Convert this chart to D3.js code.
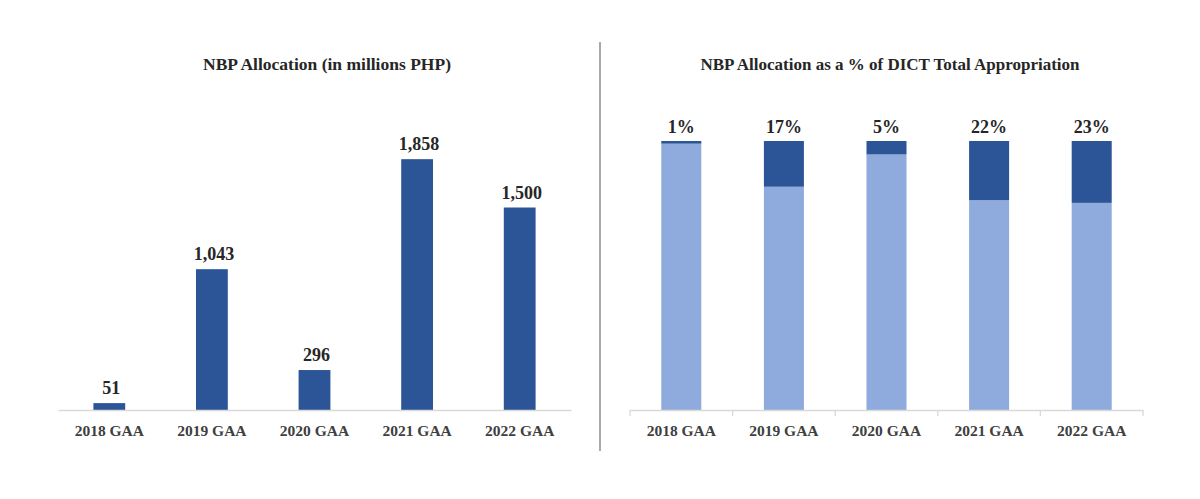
<!DOCTYPE html>
<html><head><meta charset="utf-8">
<script src="https://cdn.jsdelivr.net/npm/d3@7"></script>
<style>
body{margin:0;background:#fff;}
text{font-family:"Liberation Serif","DejaVu Serif",serif;}
</style></head>
<body><svg id="c" width="1200" height="499"></svg>
<script>
const categories = ["2018 GAA","2019 GAA","2020 GAA","2021 GAA","2022 GAA"];
const allocation = [51,1043,296,1858,1500];
const allocationLabels = ["51","1,043","296","1,858","1,500"];
const sharePct = [1,17,5,22,23];
const shareLabels = ["1%","17%","5%","22%","23%"];
const leftTitle = "NBP Allocation (in millions PHP)";
const rightTitle = "NBP Allocation as a % of DICT Total Appropriation";

const svg = d3.select("#c");
const dark = "#2b5597", light = "#8faadc";
const base = 410;

// divider
svg.append("line").attr("x1",600).attr("x2",600).attr("y1",42).attr("y2",451)
  .attr("stroke","#8c8c8c").attr("stroke-width",1.5);

// LEFT
const xL = d3.scaleBand().domain(categories).range([58,571]).paddingInner(0.69).paddingOuter(0.345);
const yL = d3.scaleLinear().domain([0,2000]).range([base,140]);
svg.append("text").attr("x",327).attr("y",70).attr("text-anchor","middle")
  .attr("font-size",17.5).attr("font-weight","bold").attr("fill","#262626").text(leftTitle);
svg.selectAll(".bl").data(categories).enter().append("rect")
  .attr("x",d=>xL(d)).attr("width",xL.bandwidth())
  .attr("y",(d,i)=>yL(allocation[i])).attr("height",(d,i)=>base-yL(allocation[i]))
  .attr("fill",dark);
svg.selectAll(".vl").data(categories).enter().append("text")
  .attr("x",d=>xL(d)+xL.bandwidth()/2+2).attr("y",(d,i)=>yL(allocation[i])-9)
  .attr("text-anchor","middle").attr("font-size",18).attr("font-weight","bold").attr("fill","#262626")
  .text((d,i)=>allocationLabels[i]);
const axL = svg.append("g").attr("transform",`translate(0,${base})`)
  .call(d3.axisBottom(xL).tickSize(0).tickPadding(15));
axL.select(".domain").attr("stroke","#d9d9d9").attr("stroke-width",1.3);
axL.selectAll("text").attr("font-size",15.5).attr("fill","#404040").attr("font-family","Liberation Serif, serif").attr("font-weight","bold");

// RIGHT
const xR = d3.scaleBand().domain(categories).range([630,1143]).paddingInner(0.61).paddingOuter(0.305);
const yR = d3.scaleLinear().domain([0,100]).range([base,141]);
svg.append("text").attr("x",890).attr("y",70).attr("text-anchor","middle")
  .attr("font-size",17).attr("font-weight","bold").attr("fill","#262626").text(rightTitle);
svg.selectAll(".br").data(categories).enter().append("rect")
  .attr("x",d=>xR(d)).attr("width",xR.bandwidth())
  .attr("y",(d,i)=>yR(100-sharePct[i])).attr("height",(d,i)=>base-yR(100-sharePct[i]))
  .attr("fill",light);
svg.selectAll(".bd").data(categories).enter().append("rect")
  .attr("x",d=>xR(d)).attr("width",xR.bandwidth())
  .attr("y",yR(100)).attr("height",(d,i)=>yR(100-sharePct[i])-yR(100))
  .attr("fill",dark);
svg.selectAll(".vr").data(categories).enter().append("text")
  .attr("x",d=>xR(d)+xR.bandwidth()/2).attr("y",yR(100)-8)
  .attr("text-anchor","middle").attr("font-size",18).attr("font-weight","bold").attr("fill","#262626")
  .text((d,i)=>shareLabels[i]);
const axR = svg.append("g").attr("transform",`translate(0,${base})`)
  .call(d3.axisBottom(xR).tickSize(0).tickPadding(15));
axR.select(".domain").attr("stroke","#d9d9d9").attr("stroke-width",1.3);
axR.selectAll("text").attr("font-size",15.5).attr("fill","#404040").attr("font-family","Liberation Serif, serif").attr("font-weight","bold");
// tick marks at band boundaries
const bounds = categories.map(d=>xR(d)-xR.step()*xR.paddingInner()/2).concat([1143]);
svg.selectAll(".tk").data(bounds).enter().append("line")
  .attr("x1",d=>d).attr("x2",d=>d).attr("y1",base).attr("y2",base+6)
  .attr("stroke","#d9d9d9").attr("stroke-width",1.3);
</script></body></html>
